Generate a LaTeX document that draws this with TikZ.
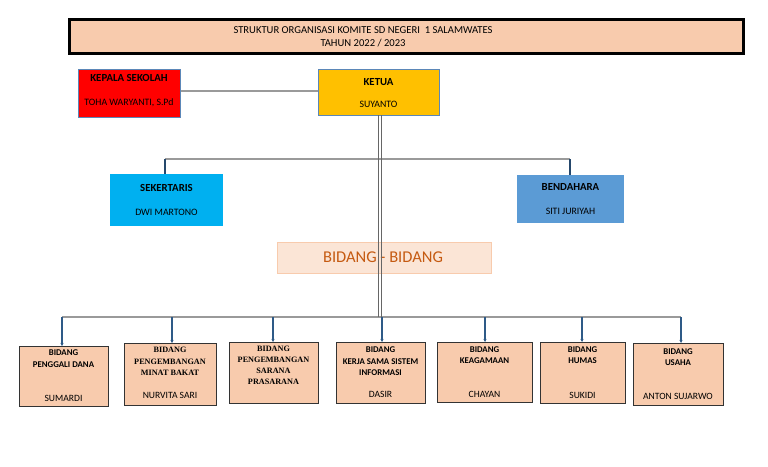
\documentclass[tikz,border=0pt]{standalone}
\usepackage{fontspec}
\setmainfont{Carlito}
\newfontfamily\serifb{Liberation Serif}
\usetikzlibrary{arrows.meta}
\definecolor{peach}{HTML}{F8CBAD}
\definecolor{lpeach}{HTML}{FBE5D6}
\definecolor{ketuaC}{HTML}{FFC000}
\definecolor{sekC}{HTML}{00B0F0}
\definecolor{benC}{HTML}{5B9BD5}
\definecolor{bordC}{HTML}{5B87B8}
\definecolor{orangeT}{HTML}{C55A11}
\definecolor{dropC}{HTML}{2E5A87}
\definecolor{lineC}{HTML}{9A9A9A}
\tikzset{
  box/.style={draw, rectangle, inner sep=0pt, anchor=north west},
  topbox/.style={box, draw=bordC, line width=0.8pt},
  botbox/.style={box, fill=peach, draw=black!80, line width=0.9pt},
  lbl/.style={font=\fontsize{9.8}{10}\selectfont, inner sep=0pt},
  blbl/.style={font=\fontsize{10.8}{11}\selectfont\bfseries, inner sep=0pt},
  bblbl/.style={font=\fontsize{8.8}{9}\selectfont\bfseries, inner sep=0pt},
  nlbl/.style={font=\fontsize{9.6}{10}\selectfont, inner sep=0pt},
  slbl/.style={font=\fontsize{8.2}{9}\serifb\bfseries, inner sep=0pt},
  conn/.style={draw=lineC, line width=1.4pt},
  vline/.style={draw=black!60, line width=0.9pt},
  drop/.style={draw=dropC, line width=1.4pt, -{Stealth[length=3pt,width=3pt]}},
  plainDrop/.style={draw=dropC!80!black, line width=1.6pt},
}
\begin{document}
\begin{tikzpicture}[x=1pt,y=-1pt]
\useasboundingbox (0,0) rectangle (768,466);
% title
\node[box, fill=peach, draw=black, line width=2.6pt, minimum width=674pt, minimum height=34pt] (title) at (68,18) {};
\node[lbl, font=\fontsize{10.6}{11}\selectfont] (t1) at (363,30) {STRUKTUR ORGANISASI KOMITE SD NEGERI\ \ 1 SALAMWATES};
\node[lbl, font=\fontsize{10.6}{11}\selectfont] (t2) at (363,43) {TAHUN 2022 / 2023};
% top row
\node[topbox, fill=red, minimum width=102pt, minimum height=48pt] (kepala) at (78,69) {};
\node[blbl] (kepala1) at (129,78) {KEPALA SEKOLAH};
\node[lbl] (kepala2) at (129,103) {TOHA WARYANTI, S.Pd};
\node[topbox, fill=ketuaC, minimum width=121pt, minimum height=46pt] (ketua) at (318,69) {};
\node[blbl] (ketua1) at (378.5,82) {KETUA};
\node[lbl] (ketua2) at (378.5,104) {SUYANTO};
\coordinate (kk) at (318,91);
\draw[conn] (kepala.east |- kk) -- (kk);
% second row
\node[box, fill=sekC, draw=none, minimum width=113pt, minimum height=52pt] (sek) at (110,174) {};
\node[blbl] (sek1) at (166.5,188) {SEKERTARIS};
\node[lbl] (sek2) at (166.5,212) {DWI MARTONO};
\node[box, fill=benC, draw=none, minimum width=107pt, minimum height=48pt] (ben) at (517,175) {};
\node[blbl] (ben1) at (570.5,187) {BENDAHARA};
\node[lbl] (ben2) at (570.5,211) {SITI JURIYAH};
\coordinate (hL) at (165,159);
\coordinate (hR) at (570,159);
\draw[conn] (hL) -- (hR);
\draw[plainDrop] (hL) -- (hL |- sek.north);
\draw[plainDrop] (hR) -- (hR |- ben.north);
% bidang label
\node[box, fill=lpeach, draw=peach, line width=0.8pt, minimum width=214pt, minimum height=31pt] (bid) at (277,242) {};
\node[inner sep=0pt, font=\fontsize{16.5}{18}\selectfont, text=orangeT] (bidT) at (383,257) {BIDANG - BIDANG};
% bottom horizontal
\coordinate (bL) at (62,317);
\coordinate (bR) at (681,317);
\draw[conn] (bL) -- (bR);
\coordinate (vtop) at (380,115);
\coordinate (vbot) at (380,317);
\draw[vline] ([xshift=-1.3pt]vtop) -- ([xshift=-1.3pt]vbot);
\draw[vline] ([xshift=1.3pt]vtop) -- ([xshift=1.3pt]vbot);
% bottom boxes
\node[botbox, minimum width=89pt, minimum height=60pt] (b1) at (19,346) {};
\node[bblbl] (b1a) at (63.5,353) {BIDANG};
\node[bblbl] (b1b) at (63.5,365) {PENGGALI DANA};
\node[nlbl] (b1c) at (63.5,398) {SUMARDI};
\node[botbox, minimum width=92pt, minimum height=62pt] (b2) at (124,343) {};
\node[slbl] (b2a) at (170,350) {BIDANG};
\node[slbl] (b2b) at (170,362) {PENGEMBANGAN};
\node[slbl] (b2c) at (170,373) {MINAT BAKAT};
\node[nlbl] (b2d) at (170,395) {NURVITA SARI};
\node[botbox, minimum width=89pt, minimum height=61pt] (b3) at (229,342) {};
\node[slbl] (b3a) at (273.5,349) {BIDANG};
\node[slbl] (b3b) at (273.5,360) {PENGEMBANGAN};
\node[slbl] (b3c) at (273.5,371) {SARANA};
\node[slbl] (b3d) at (273.5,382) {PRASARANA};
\node[botbox, minimum width=89pt, minimum height=61pt] (b4) at (336,342) {};
\node[bblbl] (b4a) at (380.5,350) {BIDANG};
\node[bblbl] (b4b) at (380.5,362) {KERJA SAMA SISTEM};
\node[bblbl] (b4c) at (380.5,373) {INFORMASI};
\node[nlbl] (b4d) at (380.5,394) {DASIR};
\node[botbox, minimum width=95pt, minimum height=60pt] (b5) at (437,342) {};
\node[bblbl] (b5a) at (484.5,350) {BIDANG};
\node[bblbl] (b5b) at (484.5,361) {KEAGAMAAN};
\node[nlbl] (b5c) at (484.5,394) {CHAYAN};
\node[botbox, minimum width=85pt, minimum height=61pt] (b6) at (540,342) {};
\node[bblbl] (b6a) at (582.5,350) {BIDANG};
\node[bblbl] (b6b) at (582.5,361) {HUMAS};
\node[nlbl] (b6c) at (582.5,395) {SUKIDI};
\node[botbox, minimum width=90pt, minimum height=62pt] (b7) at (633,343) {};
\node[bblbl] (b7a) at (678,352) {BIDANG};
\node[bblbl] (b7b) at (678,363) {USAHA};
\node[nlbl] (b7c) at (678,396) {ANTON SUJARWO};
% drops
\coordinate (d1) at (62,317);
\coordinate (d2) at (172,317);
\coordinate (d3) at (273,317);
\coordinate (d4) at (382,317);
\coordinate (d5) at (485,317);
\coordinate (d6) at (582,317);
\coordinate (d7) at (681,317);
\draw[drop] (d1) -- (d1 |- b1.north);
\draw[drop] (d2) -- (d2 |- b2.north);
\draw[drop] (d3) -- (d3 |- b3.north);
\draw[drop] (d4) -- (d4 |- b4.north);
\draw[drop] (d5) -- (d5 |- b5.north);
\draw[drop] (d6) -- (d6 |- b6.north);
\draw[drop] (d7) -- (d7 |- b7.north);
\end{tikzpicture}
\end{document}
